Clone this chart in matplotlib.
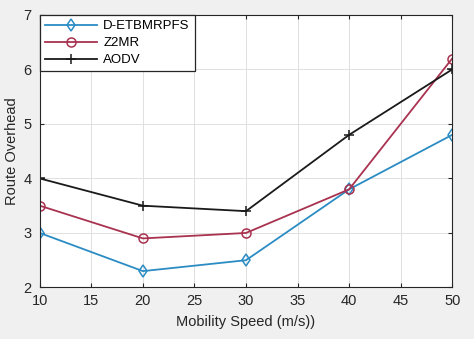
import matplotlib
matplotlib.use("Agg")
import matplotlib.pyplot as plt

plt.rcParams['font.family'] = ['Liberation Sans', 'DejaVu Sans']

speed = [10, 20, 30, 40, 50]
d_etbmrpfs = [3.0, 2.3, 2.5, 3.8, 4.8]
z2mr = [3.5, 2.9, 3.0, 3.8, 6.2]
aodv = [4.0, 3.5, 3.4, 4.8, 6.0]

fig = plt.figure(figsize=(4.74, 3.39), dpi=100, facecolor='#f0f0f0')
ax = fig.add_axes([0.084, 0.152, 0.870, 0.804])

ax.plot(speed, d_etbmrpfs, color='#2b8cc4', marker='d', markersize=6, mfc='none', mew=1.1, lw=1.3, label='D-ETBMRPFS')
ax.plot(speed, z2mr, color='#a8324f', marker='o', markersize=6.5, mfc='none', mew=1.1, lw=1.3, label='Z2MR')
ax.plot(speed, aodv, color='#1a1a1a', marker='+', markersize=7, mew=1.1, lw=1.3, label='AODV')

ax.set_xlim(10, 50)
ax.set_ylim(2, 7)
ax.set_xticks(range(10, 51, 5))
ax.set_yticks(range(2, 8))
ax.tick_params(direction='in', top=True, right=True, labelsize=10.5, colors='#262626', length=3)
ax.tick_params(axis='x', pad=5)
ax.tick_params(axis='y', pad=6)
ax.grid(True, color='#e0e0e0', lw=0.7)
for s in ax.spines.values():
    s.set_color('#262626')
    s.set_linewidth(0.8)

ax.set_xlabel('Mobility Speed (m/s))', fontsize=10.5, color='#262626', labelpad=5)
ax.set_ylabel('Route Overhead', fontsize=10.5, color='#262626', labelpad=3)

leg = ax.legend(loc='upper left', fontsize=9.5, fancybox=False, framealpha=1, borderaxespad=0,
                handlelength=3.9, borderpad=0.4, labelspacing=0.35, handletextpad=0.5)
leg.get_frame().set_edgecolor('#262626')
leg.get_frame().set_linewidth(0.9)

fig.savefig('out.png', dpi=100, facecolor=fig.get_facecolor())
plt.close()
